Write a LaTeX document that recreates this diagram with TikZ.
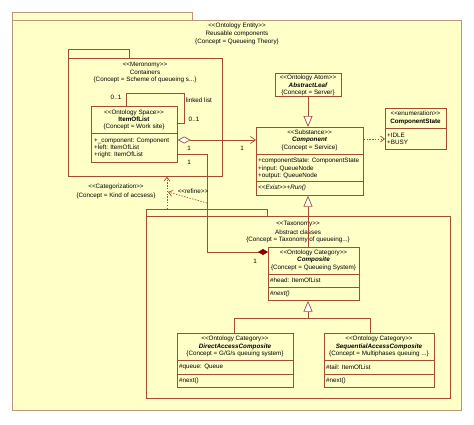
\documentclass[tikz,border=0pt]{standalone}
\usepackage{xcolor}
\usepackage{fontspec}
\usepackage{tikz}
\usetikzlibrary{arrows.meta, positioning, calc}
\newfontfamily\umlfont{Liberation Sans}
\definecolor{umlline}{RGB}{165, 75, 50}
\definecolor{umlfill}{RGB}{255, 255, 200}
\definecolor{pkgline}{RGB}{185, 150, 120}
\definecolor{darkred}{RGB}{128, 0, 0}
\tikzstyle{pkgbox} = [
    rectangle,
    anchor=north west,
    inner sep=0pt,
    draw=umlline,
    fill=umlfill,
    line width=0.7pt
]
\tikzstyle{classbox} = [
    rectangle,
    anchor=north west,
    inner sep=0pt,
    draw=umlline,
    fill=umlfill,
    line width=0.7pt
]
\tikzstyle{lbl} = [
    inner sep=0pt,
    text=black,
    font=\umlfont\fontsize{6.3}{7.5}\selectfont
]
\tikzstyle{member} = [lbl, anchor=west]
\tikzstyle{cname} = [lbl, font=\umlfont\fontsize{6.3}{7.5}\selectfont\bfseries\itshape]
\tikzstyle{line} = [
    draw=umlline,
    line width=0.7pt
]
\tikzstyle{depend} = [
    line,
    dash pattern=on 1.4pt off 1.4pt,
    -{Straight Barb[length=4pt, width=6pt]}
]
\tikzstyle{inherit} = [
    line,
    -{Triangle[open, length=11pt, width=9pt, fill=white]}
]

\begin{document}
\begin{tikzpicture}[x=1pt, y=-1pt]
        \useasboundingbox (0,0) rectangle (474,424);

        % Packages
        \node[pkgbox, draw=pkgline, line width=1.2pt, minimum width=180, minimum height=8] (enttab) at (12,12) {};
        \node[pkgbox, draw=pkgline, line width=1.2pt, minimum width=449, minimum height=390] (entity) at (12,20) {};
        \node[lbl] (entst) at (237,26) {<<Ontology Entity>>};
        \node[lbl] (entname) at (237,34) {Reusable components};
        \node[lbl] (entcon) at (237,42) {\{Concept = Queueing Theory\}};

        \node[pkgbox, minimum width=61, minimum height=9] (merotab) at (68,49) {};
        \node[pkgbox, minimum width=154, minimum height=118] (meronomy) at (68,58) {};
        \node[lbl] (merost) at (145,65) {<<Meronomy>>};
        \node[lbl] (meroname) at (145,72) {Containers};
        \node[lbl] (merocon) at (145,80) {\{Concept = Scheme of queueing s...\}};

        \node[pkgbox, minimum width=121, minimum height=7] (taxtab) at (146,209) {};
        \node[pkgbox, minimum width=304, minimum height=182] (taxonomy) at (146,216) {};
        \node[lbl] (taxst) at (298,224) {<<Taxonomy>>};
        \node[lbl] (taxname) at (298,232) {Abstract classes};
        \node[lbl] (taxcon) at (298,240) {\{Concept = Taxonomy of queueing...\}};

        % Classes
        \node[classbox, minimum width=86, minimum height=56] (itemoflist) at (91,106) {};
        \node[lbl] (ilst) at (134,113) {<<Ontology Space>>};
        \node[lbl, font=\umlfont\fontsize{6.3}{7.5}\selectfont\bfseries] (ilname) at (134,119.5) {ItemOfList};
        \node[lbl] (ilcon) at (134,126.5) {\{Concept = Work site\}};
        \draw[line] (itemoflist.west |- 0,133) -- (itemoflist.east |- 0,133);
        \node[member] (ilcomp) at (94,140.5) {+\_component: Component};
        \node[member] (illeft) at (94,147.5) {+left: ItemOfList};
        \node[member] (ilright) at (94,155) {+right: ItemOfList};

        \node[classbox, minimum width=66, minimum height=23] (abstractleaf) at (275,73) {};
        \node[lbl] (alst) at (308,77.5) {<<Ontology Atom>>};
        \node[cname] (alname) at (308,85) {AbstractLeaf};
        \node[lbl] (alcon) at (308,92.5) {\{Concept = Server\}};

        \node[classbox, minimum width=107, minimum height=68] (component) at (256,127) {};
        \node[lbl] (cost) at (309.5,132.5) {<<Substance>>};
        \node[cname] (coname) at (309.5,140) {Component};
        \node[lbl] (cocon) at (309.5,148) {\{Concept = Service\}};
        \draw[line] (component.west |- 0,154) -- (component.east |- 0,154);
        \node[member] (costate) at (258,161) {+componentState: ComponentState};
        \node[member] (coinput) at (258,168.5) {+input: QueueNode};
        \node[member] (cooutput) at (258,176) {+output: QueueNode};
        \draw[line] (component.west |- 0,181) -- (component.east |- 0,181);
        \node[member, font=\umlfont\fontsize{6.3}{7.5}\selectfont\itshape] (corun) at (258,188) {<<Exist>>+Run()};

        \node[classbox, minimum width=61, minimum height=41] (compstate) at (385,108) {};
        \node[lbl] (csst) at (415.5,113) {<<enumeration>>};
        \node[lbl, font=\umlfont\fontsize{6.3}{7.5}\selectfont\bfseries] (csname) at (415.5,121.5) {ComponentState};
        \draw[line] (compstate.west |- 0,128) -- (compstate.east |- 0,128);
        \node[member] (csidle) at (387,135) {+IDLE};
        \node[member] (csbusy) at (387,142) {+BUSY};

        \node[classbox, minimum width=91, minimum height=53] (composite) at (268,247) {};
        \node[lbl] (cpst) at (313.5,252.5) {<<Ontology Category>>};
        \node[cname] (cpname) at (313.5,260) {Composite};
        \node[lbl] (cpcon) at (313.5,268) {\{Concept = Queueing System\}};
        \draw[line] (composite.west |- 0,274) -- (composite.east |- 0,274);
        \node[member] (cphead) at (270,280.5) {\#head: ItemOfList};
        \draw[line] (composite.west |- 0,287) -- (composite.east |- 0,287);
        \node[member, font=\umlfont\fontsize{6.3}{7.5}\selectfont\itshape] (cpnext) at (270,293.5) {\#next()};

        \node[classbox, minimum width=116, minimum height=54] (directaccess) at (177,333) {};
        \node[lbl] (dast) at (235,339) {<<Ontology Category>>};
        \node[cname] (daname) at (235,346.5) {DirectAccessComposite};
        \node[lbl] (dacon) at (235,354) {\{Concept = G/G/s queuing system\}};
        \draw[line] (directaccess.west |- 0,360) -- (directaccess.east |- 0,360);
        \node[member] (daqueue) at (179,367) {\#queue: Queue};
        \draw[line] (directaccess.west |- 0,374) -- (directaccess.east |- 0,374);
        \node[member] (danext) at (179,381) {\#next()};

        \node[classbox, minimum width=110, minimum height=54] (seqaccess) at (324,333) {};
        \node[lbl] (sast) at (379,339) {<<Ontology Category>>};
        \node[cname] (saname) at (379,346.5) {SequentialAccessComposite};
        \node[lbl] (sacon) at (379,354) {\{Concept = Multiphases queuing ...\}};
        \draw[line] (seqaccess.west |- 0,360) -- (seqaccess.east |- 0,360);
        \node[member] (satail) at (326,367) {\#tail: ItemOfList};
        \draw[line] (seqaccess.west |- 0,374) -- (seqaccess.east |- 0,374);
        \node[member] (sanext) at (326,381) {\#next()};

        % Arrows
        \draw[line] (126,0 |- itemoflist.north) -- (126,93) -| (184,123) -- (itemoflist.east |- 0,123);
        \draw[line, {Diamond[open, length=13pt, width=7pt, fill=white]}-{Straight Barb[length=5pt, width=7pt]}]
            (itemoflist.east |- 0,140) -- (component.west |- 0,140);
        \draw[line, -{Diamond[length=10pt, width=6pt, fill=darkred, color=darkred]}]
            (itemoflist.east |- 0,154) -| (207,252) -- (composite.west |- 0,252);
        \draw[depend] (component.east |- 0,139) -- (compstate.west |- 0,139);
        \draw[depend] (167,0 |- taxtab.north) -- (167,0 |- meronomy.south);
        \coordinate (refsrc) at (207,203);
        \coordinate (reftgt) at (168,192);
        \draw[depend] (refsrc) -- (reftgt);
        \draw[inherit] (308,0 |- abstractleaf.south) -- (308,0 |- component.north);
        \draw[inherit] (308,0 |- composite.north) -- (308,0 |- component.south);
        \draw[inherit] (234,0 |- directaccess.north) |- (308,318) -- (308,0 |- composite.south);
        \draw[line] (370,0 |- seqaccess.north) |- (308,318);

        \node[lbl] (m1) at (116,97) {0..1};
        \node[lbl] (linked) at (199,100) {linked list};
        \node[lbl] (m2) at (194,119) {0..1};
        \node[lbl] (m3) at (189,148) {1};
        \node[lbl] (m4) at (242,148) {1};
        \node[lbl] (m5) at (189,162) {1};
        \node[lbl] (m6) at (255,261) {1};
        \node[lbl] (catst) at (116,187) {<<Categorization>>};
        \node[lbl] (catcon) at (116,196) {\{Concept = Kind of accsess\}};
        \node[lbl] (refine) at (193,191) {<<refine>>};
    \end{tikzpicture}
\end{document}
